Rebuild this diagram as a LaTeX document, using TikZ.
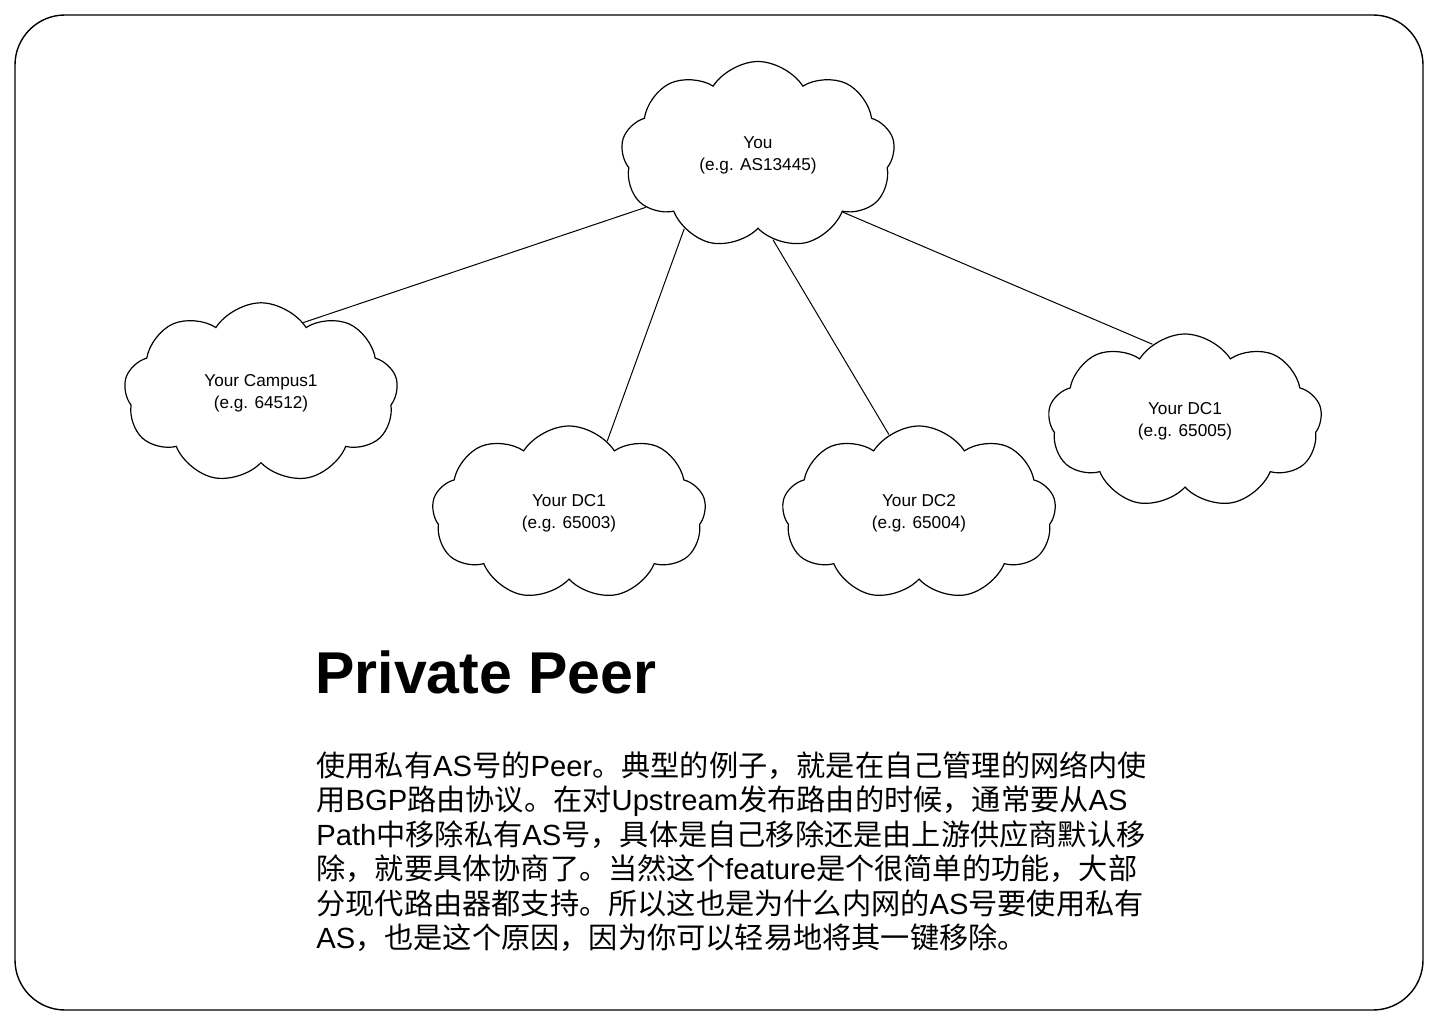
\documentclass[tikz,border=0pt]{standalone}
\usepackage{fontspec}
\setmainfont{Liberation Sans}
\newfontfamily\cjk{Noto Sans CJK SC}
\usetikzlibrary{shapes.symbols}
\newcommand{\lat}[1]{{\rmfamily #1}}
\begin{document}
\begin{tikzpicture}[x=0.5pt,y=-0.5pt,
  cl/.style={cloud,cloud puffs=9,cloud puff arc=115,draw,line width=0.6pt,minimum width=137pt,minimum height=87pt,align=center,font=\fontsize{8.6}{11}\selectfont,inner sep=0pt},
  ln/.style={line width=0.5pt}]
\useasboundingbox (0,0) rectangle (1440,1026);
\draw[line width=0.7pt,rounded corners=25pt] (15,15) rectangle (1423,1010);
\node[cl] (you) at (758,155) {You\\(e.g. AS13445)};
\node[cl] (c1) at (261,393) {Your Campus1\\(e.g. 64512)};
\node[cl] (d1) at (569,513) {Your DC1\\(e.g. 65003)};
\node[cl] (d2) at (919,513) {Your DC2\\(e.g. 65004)};
\node[cl] (d3) at (1185,421) {Your DC1\\(e.g. 65005)};
\draw[ln] (you.205) -- (c1.59);
\draw[ln] (you.225) -- (d1.62);
\draw[ln] (you.280) -- (d2.111);
\draw[ln] (you.326) -- (d3.113);
\node[anchor=base west,inner sep=0pt,font=\fontsize{29.5}{34}\selectfont\bfseries] (t) at (315,693) {Private Peer};
\node[anchor=north west,inner sep=0pt,align=left,font=\fontsize{14.6}{17.25}\selectfont\cjk] (b) at (316,751) {%
使用私有\lat{AS}号的\lat{Peer}。典型的例子，就是在自己管理的网络内使\\
用\lat{BGP}路由协议。在对\lat{Upstream}发布路由的时候，通常要从\lat{AS}\\
\lat{Path}中移除私有\lat{AS}号，具体是自己移除还是由上游供应商默认移\\
除，就要具体协商了。当然这个\lat{feature}是个很简单的功能，大部\\
分现代路由器都支持。所以这也是为什么内网的\lat{AS}号要使用私有\\
\lat{AS}，也是这个原因，因为你可以轻易地将其一键移除。};
\end{tikzpicture}
\end{document}
